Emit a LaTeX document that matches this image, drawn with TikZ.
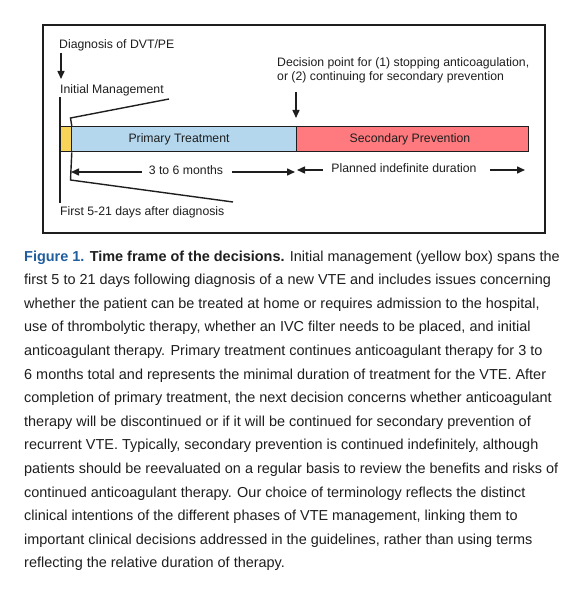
\documentclass[tikz,border=0pt]{standalone}
\usepackage{fontspec}
\setmainfont{Liberation Sans}
\usetikzlibrary{arrows.meta}
\definecolor{ink}{HTML}{1E1E1E}
\definecolor{yel}{HTML}{F8D35A}
\definecolor{blu}{HTML}{B4D7EE}
\definecolor{rd}{HTML}{FE7A7E}
\definecolor{figblue}{HTML}{1F5E9E}
\tikzset{
  lbl/.style={anchor=base west,inner sep=0pt,font=\fontsize{12.3}{14}\selectfont,text=ink},
  ctr/.style={anchor=base,inner sep=0pt,font=\fontsize{12.3}{14}\selectfont,text=ink},
  captxt/.style={anchor=base west,inner sep=0pt,font=\fontsize{14.5}{17}\selectfont,text=ink},
  seg/.style={draw=ink,line width=1.3bp,inner sep=0pt},
  arr/.style={-{Triangle[length=8bp,width=7bp]},line width=1.5bp,draw=ink},
  brk/.style={line width=1.4bp,draw=ink},
}
\begin{document}
\begin{tikzpicture}[x=1bp,y=-1bp]
\useasboundingbox (0,0) rectangle (580,597);
% frame
\draw[line width=2bp,draw=ink] (43,25) rectangle (545,233);
% bar
\node[seg,fill=yel,minimum width=11bp,minimum height=25bp,anchor=north west] (yb) at (59.5,126) {};
\node[seg,fill=blu,minimum width=225bp,minimum height=25bp,anchor=north west] (bb) at (70.5,126) {};
\node[seg,fill=rd,minimum width=232bp,minimum height=25bp,anchor=north west] (rb) at (295.5,126) {};
\node[ctr] (pt) at (179,143) {Primary Treatment};
\node[ctr] (sp) at (410,143) {Secondary Prevention};
% labels
\node[lbl] (diag) at (59,49) {Diagnosis of DVT/PE};
\node[lbl] (im) at (60,94) {Initial Management};
\node[lbl] (dp1) at (277,67) {Decision point for (1) stopping anticoagulation,};
\node[lbl] (dp2) at (277,80.5) {or (2) continuing for secondary prevention};
\node[ctr] (m36) at (186,175) {3 to 6 months};
\node[ctr] (pid) at (404,173) {Planned indefinite duration};
\node[lbl] (first) at (60,215.5) {First 5-21 days after diagnosis};
% coordinates
\coordinate (d0) at (61,53);
\coordinate (d1) at (61,79);
\coordinate (q0) at (296,92);
\coordinate (q1) at (296,118);
\draw[arr] (d0) -- (d1);
\draw[arr] (q0) -- (q1);
% bracket lines
\coordinate (v0) at (60,97);
\coordinate (v1) at (60,203);
\draw[brk] (v0) -- (v1);
\coordinate (t0) at (169,99);
\coordinate (t1) at (70.5,118);
\draw[brk] (t0) -- (t1) -- (yb.north east);
\coordinate (b1) at (70.5,180);
\coordinate (b2) at (233,202);
\draw[brk] (yb.south east) -- (b1) -- (b2);
% duration arrows
\coordinate (a1) at (142,172);
\coordinate (a1t) at (71,172);
\coordinate (a2) at (232,172);
\coordinate (a2t) at (295,172);
\coordinate (a3) at (323,170);
\coordinate (a3t) at (297,170);
\coordinate (a4) at (490,170);
\coordinate (a4t) at (525,170);
\draw[arr] (a1) -- (a1t);
\draw[arr] (a2) -- (a2t);
\draw[arr] (a3) -- (a3t);
\draw[arr] (a4) -- (a4t);
% caption
\node[captxt] (c1) at (24,261) {\textcolor{figblue}{\textbf{Figure 1.}} \textbf{Time frame of the decisions.} Initial management (yellow box) spans the};
\node[captxt] (c2) at (24,284.6) {first 5 to 21 days following diagnosis of a new VTE and includes issues concerning};
\node[captxt] (c3) at (24,308.2) {whether the patient can be treated at home or requires admission to the hospital,};
\node[captxt] (c4) at (24,331.8) {use of thrombolytic therapy, whether an IVC filter needs to be placed, and initial};
\node[captxt] (c5) at (24,355.4) {anticoagulant therapy. Primary treatment continues anticoagulant therapy for 3 to};
\node[captxt] (c6) at (24,379) {6 months total and represents the minimal duration of treatment for the VTE. After};
\node[captxt] (c7) at (24,402.6) {completion of primary treatment, the next decision concerns whether anticoagulant};
\node[captxt] (c8) at (24,426.2) {therapy will be discontinued or if it will be continued for secondary prevention of};
\node[captxt] (c9) at (24,449.8) {recurrent VTE. Typically, secondary prevention is continued indefinitely, although};
\node[captxt] (c10) at (24,473.4) {patients should be reevaluated on a regular basis to review the benefits and risks of};
\node[captxt] (c11) at (24,497) {continued anticoagulant therapy. Our choice of terminology reflects the distinct};
\node[captxt] (c12) at (24,520.6) {clinical intentions of the different phases of VTE management, linking them to};
\node[captxt] (c13) at (24,544.2) {important clinical decisions addressed in the guidelines, rather than using terms};
\node[captxt] (c14) at (24,567.8) {reflecting the relative duration of therapy.};
\end{tikzpicture}
\end{document}
